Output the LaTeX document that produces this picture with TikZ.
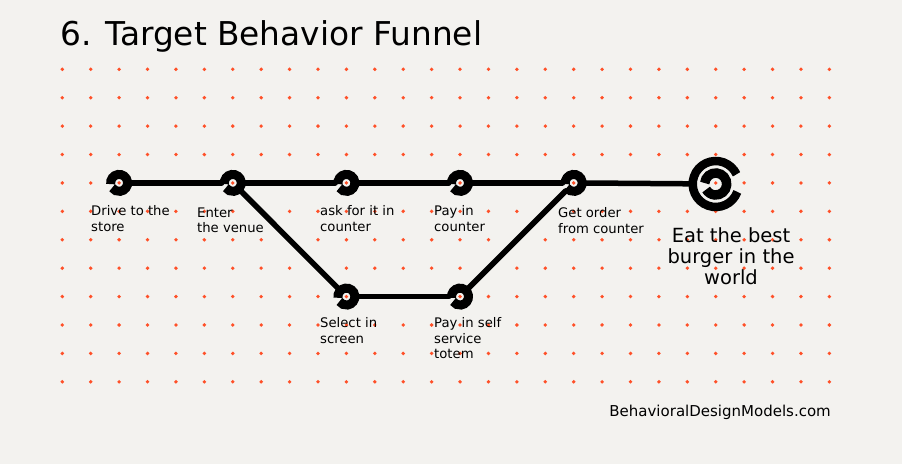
\documentclass[tikz,border=0pt]{standalone}
\usepackage{fontspec}
\setmainfont{DejaVu Sans}
\definecolor{bgc}{RGB}{243,242,239}
\definecolor{dotc}{RGB}{255,80,40}
\begin{document}
\begin{tikzpicture}[x=1pt,y=-1pt,
  stepnode/.style={circle,minimum size=22pt,inner sep=0pt},
  goalnode/.style={circle,minimum size=54pt,inner sep=0pt},
  ring/.style={line width=9pt,black},
  conn/.style={line width=5.5pt,black,line cap=round},
  lbl/.style={anchor=north west,align=left,inner sep=0pt,font=\fontsize{13.2}{15.5}\selectfont},
  goallbl/.style={anchor=north,align=center,inner sep=0pt,font=\fontsize{19.5}{21}\selectfont}]
\useasboundingbox (0,0) rectangle (902,464);
\fill[bgc] (0,0) rectangle (902,464);
\foreach \i in {0,...,27}
  \foreach \j in {0,...,11}
    \fill[dotc] (62.3+28.41*\i,69.3+28.41*\j) circle (1.9);
% title
\node[anchor=base west,inner sep=0pt,font=\fontsize{32.8}{38}\selectfont] (title) at (60,45) {6. Target Behavior Funnel};
% nodes
\node[stepnode] (n1) at (119.1,182.9) {};
\node[stepnode] (n2) at (232.8,182.9) {};
\node[stepnode] (n3) at (346.4,182.9) {};
\node[stepnode] (n4) at (460.0,182.9) {};
\node[stepnode] (n5) at (573.7,182.9) {};
\node[stepnode] (s1) at (346.4,296.6) {};
\node[stepnode] (s2) at (460.0,296.6) {};
\node[goalnode] (goal) at (715.7,184.0) {};
% connectors
\draw[conn] (n1) -- (n2);
\draw[conn] (n2) -- (n3);
\draw[conn] (n3) -- (n4);
\draw[conn] (n4) -- (n5);
\draw[conn] (n5) -- (goal);
\draw[conn] (n2) -- (s1);
\draw[conn] (s1) -- (s2);
\draw[conn] (s2) -- (n5);
% rings
\foreach \n in {n1,n2,n3,n4,n5,s1,s2}
  \draw[ring] ([shift={(172:8.5)}]\n.center) arc[start angle=172,end angle=505,radius=8.5];
\draw[line width=8.5pt] ([shift={(20:23)}]goal.center) arc[start angle=20,end angle=335,radius=23];
\draw[line width=9.5pt] ([shift={(185:11)}]goal.center) arc[start angle=185,end angle=510,radius=11];
% labels
\node[lbl] (l1) at (91,205.5) {Drive to the\\store};
\node[lbl] (l2) at (197,207.5) {Enter\\the venue};
\node[lbl] (l3) at (320,205.5) {ask for it in\\counter};
\node[lbl] (l4) at (434,205.5) {Pay in\\counter};
\node[lbl] (l5) at (558,207.5) {Get order\\from counter};
\node[lbl] (l6) at (320,317.5) {Select in\\screen};
\node[lbl] (l7) at (434,317.5) {Pay in self\\service\\totem};
\node[goallbl] (lg) at (731,227) {Eat the best\\burger in the\\world};
% footer
\node[anchor=base east,inner sep=0pt,font=\fontsize{15}{18}\selectfont] (footer) at (831,416) {BehavioralDesignModels.com};
\end{tikzpicture}
\end{document}
